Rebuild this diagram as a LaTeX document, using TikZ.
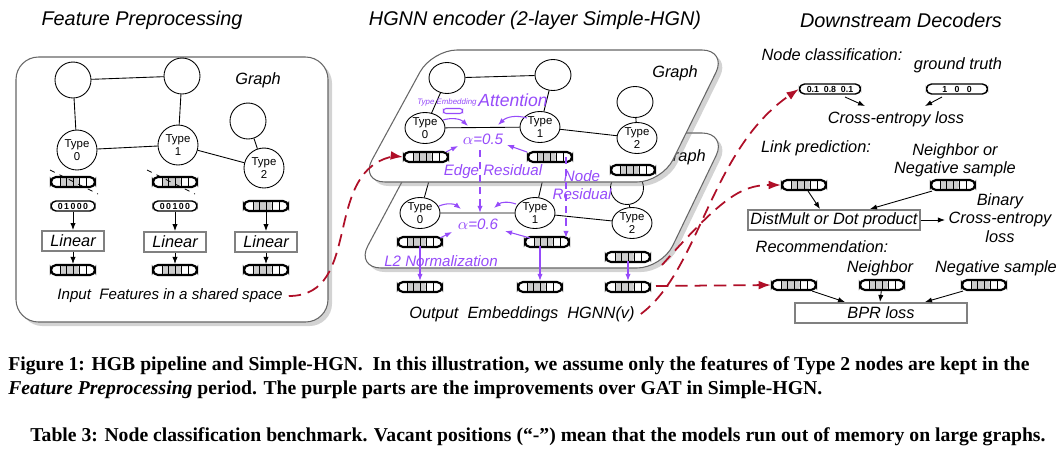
\documentclass[tikz,border=0pt]{standalone}
\usepackage{fontspec}
\setmainfont{Liberation Serif}
\newfontfamily\sans{Liberation Sans}
\usetikzlibrary{shadows,arrows.meta,shapes.geometric,calc}
\definecolor{hpurple}{RGB}{150,75,250}
\definecolor{hred}{RGB}{175,15,40}
\tikzset{
 lbl/.style={font=\sans\itshape\fontsize{9.3}{10.5}\selectfont},
 sml/.style={font=\sans\itshape\fontsize{8.6}{10}\selectfont},
 ttl/.style={font=\sans\itshape\fontsize{11.3}{12}\selectfont},
 tiny/.style={font=\sans\fontsize{6.5}{7}\selectfont,align=center,inner sep=0pt},
 gn/.style={circle,draw,fill=white,line width=0.5pt,minimum size=0.74cm,tiny},
 en/.style={ellipse,draw,fill=white,line width=0.5pt,minimum width=0.8cm,minimum height=0.62cm,tiny},
 edge/.style={line width=0.5pt},
 fv/.style={draw,line width=1.2pt,rounded corners=0.1cm,minimum width=0.88cm,minimum height=0.2cm,inner sep=0pt,
   path picture={\fill[gray!40]([xshift=0.18cm]path picture bounding box.south west) rectangle ([xshift=-0.31cm]path picture bounding box.north east);
     \foreach \i in {1,...,5}{\draw[line width=0.5pt]([xshift=\i*0.13cm+0.05cm]path picture bounding box.south west)--([xshift=\i*0.13cm+0.05cm]path picture bounding box.north west);}}},
 tv/.style={draw,line width=0.8pt,rounded corners=0.1cm,minimum width=0.88cm,minimum height=0.2cm,inner sep=0pt,font=\sans\bfseries\fontsize{5}{5}\selectfont},
 box/.style={draw=gray,line width=1pt,fill=white,minimum height=0.4cm,inner sep=1pt,lbl},
 arr/.style={-{Latex[length=4pt]},line width=0.5pt},
 parr/.style={-{Latex[length=4pt]},hpurple,line width=0.6pt},
 pdash/.style={parr,dash pattern=on 4pt off 3pt,line width=0.8pt},
 rdash/.style={-{Latex[length=7pt,width=5pt]},hred,line width=1pt,dash pattern=on 7pt off 4pt},
 plane/.style={draw=gray!80!black,line width=0.6pt,fill=white,rounded corners=0.5cm,drop shadow={opacity=0.35}},
 pl/.style={sml,text=hpurple},
 captxt/.style={font=\bfseries\fontsize{11.2}{12}\selectfont,anchor=west,inner sep=0pt},
}
\begin{document}
\begin{tikzpicture}[x=0.02cm,y=-0.02cm]
\useasboundingbox (0,0) rectangle (1063,454);
% titles
\node[ttl] (t1) at (142,20) {Feature Preprocessing};
\node[ttl] (t2) at (535,20) {HGNN encoder (2-layer Simple-HGN)};
\node[ttl] (t3) at (901,20) {Downstream Decoders};
% ---------- panel 1
\draw[plane,rounded corners=0.45cm] (16,57) rectangle (328,322);
\node[lbl] (g1) at (258,80) {Graph};
\node[gn,minimum size=0.72cm] (a) at (73,80) {};
\node[gn,minimum size=0.72cm] (b) at (182,76) {};
\node[gn,minimum size=0.72cm] (c) at (248,121) {};
\node[gn,minimum size=0.8cm] (p0) at (77,150) {Type\\0};
\node[gn,minimum size=0.8cm] (p1) at (178,145) {Type\\1};
\node[gn,minimum size=0.8cm] (p2) at (264,168) {Type\\2};
\draw[edge] (a)--(b) (a)--(p0) (b)--(p1) (p0)--(p1) (p1)--(p2) (c)--(p2);
\node[fv] (f0) at (73,182) {};
\node[fv] (f1) at (175,182) {};
\draw[dashed,line width=0.4pt] (50,170)--(98,194) (147,170)--(195,194);
\node[tv] (o0) at (73,206) {0\,1\,0\,0\,0};
\node[tv] (o1) at (175,206) {0\,0\,1\,0\,0};
\node[fv] (f2) at (266,206) {};
\node[box,minimum width=1.25cm] (l0) at (73,241) {Linear};
\node[box,minimum width=1.25cm] (l1) at (175,242) {Linear};
\node[box,minimum width=1.25cm] (l2) at (266,242) {Linear};
\node[fv] (e0) at (73,270) {};
\node[fv] (e1) at (175,270) {};
\node[fv] (e2) at (266,270) {};
\draw[arr] (o0)--(l0); \draw[arr] (o1)--(l1); \draw[arr] (f2)--(l2);
\draw[arr] (l0)--(e0); \draw[arr] (l1)--(e1); \draw[arr] (l2)--(e2);
\node[sml] (inp) at (170,296) {Input\ \ Features in a shared space};
% ---------- panel 2 bottom plane
\draw[plane] (428,133)--(727,133)--(662,268)--(356,268)--cycle;
\node[lbl] (g3) at (683,157) {Graph};
\coordinate (hb0) at (432,170);
\coordinate (hb1) at (545,170);
\node[gn,minimum size=0.66cm] (bc) at (627,188) {};
\node[en] (b0) at (420,213) {Type\\0};
\node[en] (b1) at (535,213) {Type\\1};
\node[en] (b2) at (632,223) {Type\\2};
\draw[edge] (hb0)--(b0) (hb1)--(b1) (b0)--(b1) (b1)--(b2) (bc)--(b2);
\node[fv] (bv0) at (420,242) {};
\node[fv] (bv1) at (547,242) {};
\node[fv] (bv2) at (628,257) {};
\node[pl] (a6) at (478,224) {$\alpha$=0.6};
\node[pl] (l2n) at (441,261) {L2 Normalization};
% ---------- top plane
\draw[plane] (432,50)--(727,50)--(662,182)--(360,182)--cycle;
\node[lbl] (g2) at (675,73) {Graph};
\node[en,minimum width=0.72cm] (tc0) at (447,78) {};
\node[en,minimum width=0.72cm] (tc1) at (553,75) {};
\node[en,minimum width=0.72cm] (tc2) at (635,102) {};
\node[en] (t0) at (425,128) {Type\\0};
\node[en] (t1n) at (540,127) {Type\\1};
\node[en] (t2n) at (637,138) {Type\\2};
\draw[edge] (tc0)--(tc1) (tc0)--(t0) (tc1)--(t1n) (t0)--(t1n) (t1n)--(t2n) (tc2)--(t2n);
\node[fv] (tv0) at (426,157) {};
\node[fv] (tv1) at (550,157) {};
\node[fv] (tv2) at (633,170) {};
\node[pl,font=\sans\itshape\fontsize{4.5}{5}\selectfont] (te) at (447,102) {Type Embedding};
\node[draw=hpurple,rounded corners=1.5pt,minimum width=0.38cm,minimum height=0.1cm,inner sep=0pt,line width=0.6pt] (tev) at (453,111) {};
\node[pl,font=\sans\itshape\fontsize{10}{12}\selectfont] (att) at (513,100) {Attention};
\node[pl] (a5) at (483,139) {$\alpha$=0.5};
\node[pl] (er) at (493,172) {Edge Residual};
\node[pl,align=center] (nr) at (582,185) {Node\\Residual};
% purple arrows top
\draw[parr] (443,120) to[bend left=30] (468,126);
\draw[parr] (527,118) to[bend right=30] (498,125);
\draw[parr] (446,152)--(458,146);
\draw[parr] (527,152)--(507,145);
\draw[pdash] (480,150)--(480,213);
\draw[pdash] (566,157)--(566,238);
% purple arrows bottom
\draw[parr] (439,206) to[bend left=30] (461,209);
\draw[parr] (516,204) to[bend right=30] (494,208);
\draw[parr] (440,238)--(452,232);
\draw[parr] (530,238)--(505,231);
% outputs
\node[fv] (ov0) at (420,287) {};
\node[fv] (ov1) at (540,287) {};
\node[fv] (ov2) at (628,287) {};
\draw[parr] (420,246)--(ov0); \draw[parr] (540,246)--(ov1); \draw[parr] (628,261)--(ov2);
\node[lbl] (out) at (522,314) {Output\ \ Embeddings\ \ HGNN(v)};
% ---------- panel 3
\node[lbl] (nc) at (832,55) {Node classification:};
\node[lbl] (gt) at (958,65) {ground truth};
\node[tv,minimum width=1.22cm] (pv) at (830,89) {0.1\ \ 0.8\ \ 0.1};
\node[tv,minimum width=1.22cm] (gv) at (957,89) {1\ \ \ 0\ \ \ 0};
\node[lbl] (ce) at (896,119) {Cross-entropy loss};
\draw[arr] (845,97) -- (865,106);
\draw[arr] (942,97) -- (925,106);
\node[lbl] (lp) at (816,148) {Link prediction:};
\node[lbl,align=center] (nn) at (955,160) {Neighbor or\\Negative sample};
\node[fv] (lv1) at (804,185) {};
\node[fv] (lv2) at (953,185) {};
\node[box,minimum width=3.45cm] (dm) at (834,220) {DistMult or Dot product};
\node[lbl,align=center] (bce) at (1000,218) {Binary\\Cross-entropy\\loss};
\draw[arr] (lv1)--(820,209);
\draw[arr] (lv2)--(870,209);
\draw[arr] (dm)--(945,220);
\node[lbl] (rec) at (822,247) {Recommendation:};
\node[lbl] (nb) at (880,268) {Neighbor};
\node[lbl] (ns) at (996,268) {Negative sample};
\node[fv] (rv1) at (794,285) {};
\node[fv] (rv2) at (882,285) {};
\node[fv] (rv3) at (984,285) {};
\node[box,minimum width=3.45cm] (bpr) at (881,313) {BPR loss};
\draw[arr] (rv1)--(845,302);
\draw[arr] (rv2)--(880,302);
\draw[arr] (rv3)--(925,302);
% red dashed connectors
\draw[rdash] (inp.east) to[out=0,in=190,looseness=1.1] (395,156) -- (tv0.west);
\draw[rdash] (out.east) .. controls (700,270) and (710,150) .. (pv.west);
\draw[rdash] (662,265) .. controls (720,200) and (740,185) .. (lv1.west);
\draw[rdash] (656,286) -- (rv1.west);
% captions
\node[captxt] (c1) at (8,366) {Figure 1: HGB pipeline and Simple-HGN.\ \ In this illustration, we assume only the features of Type 2 nodes are kept in the};
\node[captxt] (c2) at (8,390) {\textit{Feature Preprocessing} period. The purple parts are the improvements over GAT in Simple-HGN.};
\node[captxt] (c3) at (30,437) {Table 3: Node classification benchmark. Vacant positions (“-”) mean that the models run out of memory on large graphs.};
\end{tikzpicture}
\end{document}
